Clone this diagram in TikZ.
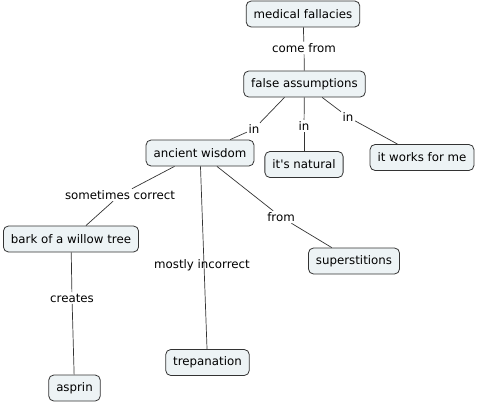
\documentclass[tikz,border=0pt]{standalone}
\usepackage{fontspec}
\setmainfont{DejaVu Sans}
\definecolor{boxfill}{HTML}{EDF3F5}
\definecolor{boxline}{HTML}{333333}
\begin{document}
\begin{tikzpicture}[x=1pt,y=-1pt,
  concept/.style={draw=boxline,fill=boxfill,rounded corners=5pt,line width=0.8pt,
    inner xsep=7.5pt,minimum height=26pt,font=\fontsize{11.8}{13}\selectfont},
  linklabel/.style={inner sep=1.5pt,font=\fontsize{11.8}{13}\selectfont},
  conn/.style={draw=black!80,line width=0.7pt}]
\useasboundingbox (0,0) rectangle (478,404);
\node[concept] (mf) at (303,14) {medical fallacies};
\node[linklabel] (cf) at (304,48) {come from};
\node[concept] (fa) at (304.5,84) {false assumptions};
\node[linklabel] (in1) at (254,129) {in};
\node[linklabel] (in2) at (304,126) {in};
\node[linklabel] (in3) at (348,117) {in};
\node[concept] (aw) at (200,153) {ancient wisdom};
\node[concept] (nat) at (304,164.5) {it\textquotesingle s natural};
\node[concept] (wfm) at (422,157.5) {it works for me};
\node[linklabel] (sc) at (120,195) {sometimes correct};
\node[concept] (bark) at (71,239) {bark of a willow tree};
\node[linklabel] (fr) at (281,217) {from};
\node[concept] (sup) at (354,261) {superstitions};
\node[linklabel] (cr) at (72,298) {creates};
\node[concept] (tre) at (207.5,362.5) {trepanation};
\node[concept] (asp) at (74.5,388) {asprin};
\coordinate (mi) at (202,265);
\path[conn] (mf) -- (cf);
\path[conn] (cf) -- (fa);
\path[conn] (fa.south) ++(-20,0) -- (in1);
\path[conn] (in1) -- (aw);
\path[conn] (fa) -- (in2);
\path[conn] (in2) -- (nat);
\path[conn] (fa) -- (in3);
\path[conn] (in3) -- (wfm);
\path[conn] (aw) -- (sc);
\path[conn] (sc) -- (bark);
\path[conn] (aw) -- (tre);
\path[conn] (aw) -- (fr);
\path[conn] (fr) -- (sup);
\path[conn] (bark) -- (cr);
\path[conn] (cr) -- (asp);
\node[linklabel] (milab) at (mi) {mostly incorrect};
\end{tikzpicture}
\end{document}
